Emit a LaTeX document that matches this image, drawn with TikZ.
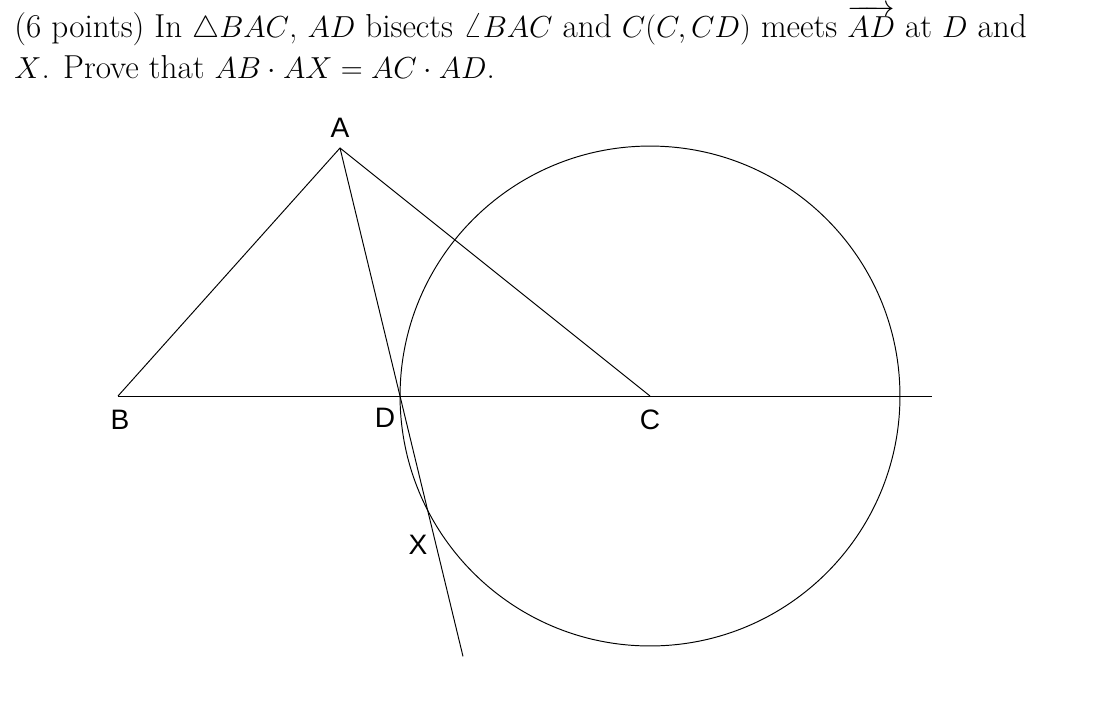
\documentclass[tikz,border=0pt]{standalone}
\usepackage{fontspec}
\usepackage{amsmath}
\newfontfamily\ptfont{Liberation Sans}
\usetikzlibrary{calc,
                positioning}

\begin{document}
\begin{tikzpicture}[x=0.02cm,y=-0.02cm,line width=0.55pt,
  pt/.style={font=\ptfont\fontsize{16}{18}\selectfont},
  txt/.style={anchor=base west,inner sep=0pt,font=\fontsize{18.9}{22}\selectfont}]
\useasboundingbox (0,0) rectangle (1104,714);
% statement
\node[txt] (line1) at (14,37) {(6 points) In $\triangle BAC$, $AD$ bisects $\angle BAC$ and $C(C,CD)$ meets $\overrightarrow{AD}$ at $D$ and};
\node[txt] (line2) at (14,78) {$X$. Prove that $AB\cdot AX=AC\cdot AD$.};

% points
\coordinate (A) at (340,148);
\coordinate (B) at (118,396);
\coordinate (D) at (400,396);
\coordinate (C) at (650,396);
\coordinate (E) at (932,396);
\coordinate (F) at ($(A)!2.05!(D)$);
\coordinate (X) at (432,524);

\draw (B) -- (A) -- (C);
\draw (B) -- (E);
\draw (A) -- (F);
\draw (C) circle [radius=5cm];

\foreach \p/\x/\y in {A/340/128, B/120/420, D/385/418, C/650/420, X/418/545}
  \node[pt] (lbl\p) at (\x,\y) {\p};
\end{tikzpicture}
\end{document}
